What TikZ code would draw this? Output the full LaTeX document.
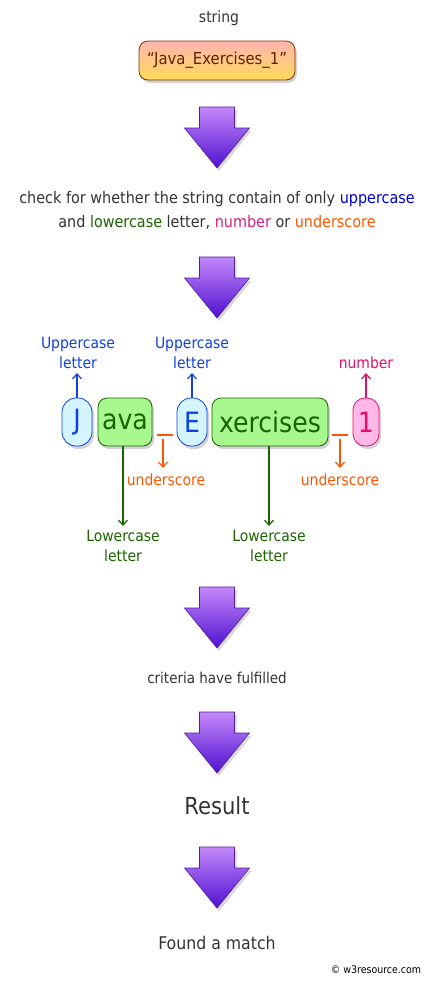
\documentclass[tikz,border=0pt]{standalone}
\usepackage{fontspec}
\setmainfont{DejaVu Sans Condensed}
\usepackage{tikz}
\usetikzlibrary{shapes.geometric, arrows.meta, positioning, shadows, calc}
\definecolor{testo}{RGB}{51,51,51}
\definecolor{maiublu}{RGB}{16,64,224}
\definecolor{minuverde}{RGB}{26,100,0}
\definecolor{numrosa}{RGB}{224,16,106}
\definecolor{trattino}{RGB}{255,85,0}
\definecolor{freccia}{RGB}{80,32,160}

\tikzset{
  testobox/.style={text=testo, align=center, inner sep=1pt},
  lettera/.style={rounded corners=9pt, line width=0.8pt, minimum height=48pt, inner sep=0pt,
    font=\fontsize{28}{28}\selectfont, drop shadow={shadow xshift=2pt, shadow yshift=-3pt, opacity=0.35}},
  maiuscola/.style={lettera, draw=maiublu, fill={rgb,255:red,212;green,244;blue,255}, text=maiublu, minimum width=30pt, rounded corners=14pt},
  minuscola/.style={lettera, draw=minuverde, fill={rgb,255:red,168;green,248;blue,144}, text=minuverde},
  numero/.style={lettera, draw=numrosa, fill={rgb,255:red,255;green,184;blue,232}, text=numrosa, minimum width=26pt, rounded corners=12pt},
  etichetta/.style={align=center, font=\fontsize{15.5}{20}\selectfont, inner sep=1pt},
  punta/.style={-{Straight Barb[length=5pt,width=9pt]}, line width=1.2pt, shorten >=3pt},
  grande/.pic={
    \shade[top color={rgb,255:red,196;green,136;blue,250}, bottom color={rgb,255:red,80;green,16;blue,208},
      draw=freccia, line width=0.6pt, drop shadow={shadow xshift=2pt, shadow yshift=-3pt, opacity=0.3}]
      (-17.5,0) -- (17.5,0) -- (17.5,21) -- (32.5,21) -- (0,61) -- (-32.5,21) -- (-17.5,21) -- cycle;
  }
}

\begin{document}
\begin{tikzpicture}[x=1pt, y=-1pt]
    \useasboundingbox (0,0) rectangle (435,988);
    % Stringa di partenza
    \node[testobox, font=\fontsize{15.5}{15.5}\selectfont] (titolo) at (219,18) {string};
    \node[rounded corners=9pt, draw={rgb,255:red,120;green,56;blue,0}, line width=0.8pt,
      top color={rgb,255:red,255;green,180;blue,176}, bottom color={rgb,255:red,255;green,218;blue,88},
      minimum width=156pt, minimum height=39pt, text={rgb,255:red,90;green,40;blue,0},
      font=\fontsize{16.5}{16.5}\selectfont, drop shadow={shadow xshift=2pt, shadow yshift=-3pt, opacity=0.35}]
      (stringa) at (217,60.5) {“Java\_Exercises\_1”};
    % Frecce grandi
    \pic at (217,107) {grande};
    \pic at (217,257) {grande};
    \pic at (217,587) {grande};
    \pic at (217,712) {grande};
    \pic at (217,847) {grande};
    % Controllo
    \node[testobox, font=\fontsize{16}{24}\selectfont] (controllo) at (217,210)
      {check for whether the string contain of only \textcolor{blue!80!black}{uppercase}\\
       and \textcolor{minuverde}{lowercase} letter, \textcolor{magenta!85!black}{number} or \textcolor{trattino}{underscore}};
    % Lettere
    \node[maiuscola] (J) at (77,422) {J};
    \node[minuscola, minimum width=54pt] (ava) at (125,422) {ava};
    \node[maiuscola] (E) at (192,422) {E};
    \node[minuscola, minimum width=116pt] (xercises) at (270,422) {xercises};
    \node[numero] (uno) at (366,422) {1};
    % Trattini
    \coordinate (us1) at (165,435);
    \coordinate (us2) at (340,435);
    \draw[trattino, line width=1.2pt] ($(us1)+(-8,0)$) -- ($(us1)+(8,0)$);
    \draw[trattino, line width=1.2pt] ($(us2)+(-8,0)$) -- ($(us2)+(8,0)$);
    % Etichette
    \node[etichetta, text=maiublu, anchor=south] (upJ) at (78,370) {Uppercase\\letter};
    \node[etichetta, text=maiublu, anchor=south] (upE) at (192,370) {Uppercase\\letter};
    \node[etichetta, text=numrosa, anchor=south] (num) at (366,370) {number};
    \node[etichetta, text=minuverde, anchor=north] (lowava) at (123,529) {Lowercase\\letter};
    \node[etichetta, text=minuverde, anchor=north] (lowxer) at (269,529) {Lowercase\\letter};
    \node[etichetta, text=trattino, anchor=north] (und1) at (166,473) {underscore};
    \node[etichetta, text=trattino, anchor=north] (und2) at (340,473) {underscore};
    % Frecce piccole
    \draw[punta, maiublu] (J.north) -- (J.north |- upJ.south);
    \draw[punta, maiublu] (E.north) -- (upE.south);
    \draw[punta, numrosa] (uno.north) -- (num.south);
    \draw[punta, minuverde] (ava.south -| lowava.north) -- (lowava.north);
    \draw[punta, minuverde] (xercises.south -| lowxer.north) -- (lowxer.north);
    \draw[punta, trattino, shorten >=5pt] ($(us1)+(-2,4)$) -- ($(us1 |- und1.north)+(-2,0)$);
    \draw[punta, trattino, shorten >=5pt] ($(us2)+(0,4)$) -- (us2 |- und2.north);
    % Risultato
    \node[testobox, font=\fontsize{15}{15}\selectfont] (criteri) at (217,678) {criteria have fulfilled};
    \node[testobox, font=\fontsize{23.5}{23.5}\selectfont] (risultato) at (217,806) {Result};
    \node[testobox, font=\fontsize{17.5}{17.5}\selectfont] (trovato) at (217,943) {Found a match};
    \node[text=black, font=\fontsize{10.5}{10.5}\selectfont, inner sep=0pt] (w3r) at (376,970) {© w3resource.com};
\end{tikzpicture}
\end{document}
